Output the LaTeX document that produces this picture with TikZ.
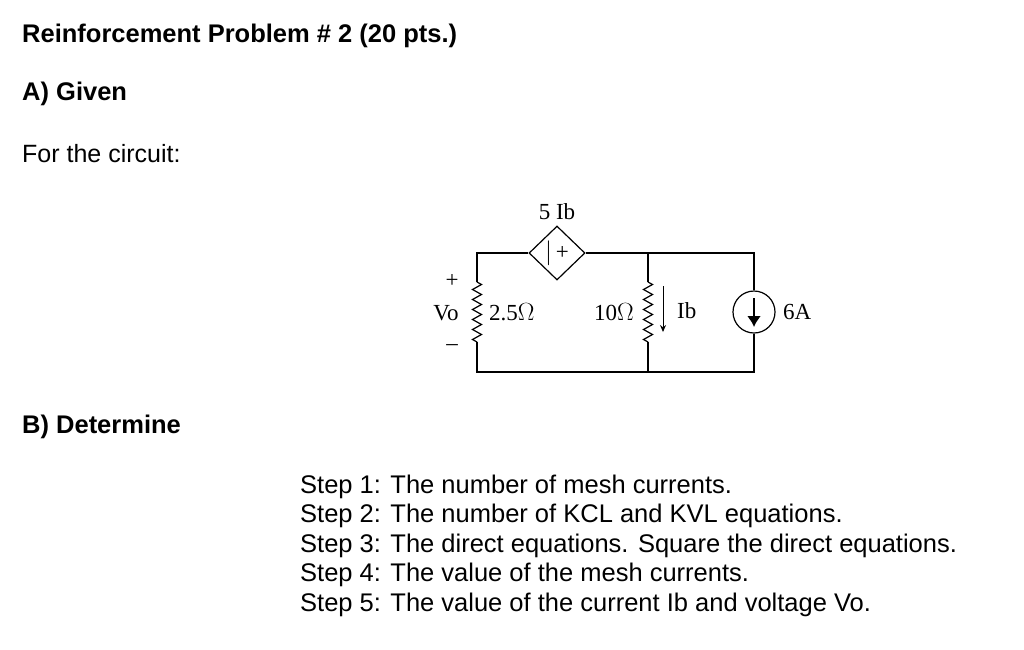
\documentclass[tikz,border=0pt]{standalone}
\usepackage{fontspec}
\setmainfont{Liberation Sans}
\newfontfamily\circfont{Liberation Serif}
\usetikzlibrary{decorations.pathmorphing,shapes.geometric,arrows.meta}
\begin{document}
\begin{tikzpicture}[x=1pt,y=-1pt,
  txt/.style={anchor=west,inner sep=0,font=\fontsize{25}{30}\selectfont},
  btxt/.style={txt,font=\fontsize{25.5}{30}\selectfont\bfseries},
  stp/.style={anchor=west,inner sep=0,font=\fontsize{25.5}{30}\selectfont},
  lbl/.style={inner sep=0,font=\circfont\fontsize{23}{26}\selectfont},
  wire/.style={line width=1.2pt},
  res/.style={wire,decorate,decoration={zigzag,segment length=10pt,amplitude=4.5pt}}]
\useasboundingbox (0,0) rectangle (1024,649);
\node[btxt] (t1) at (22,36) {Reinforcement Problem \# 2 (20 pts.)};
\node[btxt] (t2) at (22,94) {A) Given};
\node[txt] (t3) at (22,154) {For the circuit:};
\node[btxt] (t4) at (22,427) {B) Determine};
\node[stp] (s1) at (300,487) {Step 1: The number of mesh currents.};
\node[stp] (s2) at (300,516) {Step 2: The number of KCL and KVL equations.};
\node[stp] (s3) at (300,546) {Step 3: The direct equations. Square the direct equations.};
\node[stp] (s4) at (300,575) {Step 4: The value of the mesh currents.};
\node[stp] (s5) at (300,605) {Step 5: The value of the current Ib and voltage Vo.};
% circuit
\coordinate (tl) at (477,253); \coordinate (bl) at (477,372);
\coordinate (tm) at (648,253); \coordinate (bm) at (648,372);
\coordinate (tr) at (754,253); \coordinate (br) at (754,372);
\coordinate (r1a) at (477,282); \coordinate (r1b) at (477,342);
\coordinate (r2a) at (648,282); \coordinate (r2b) at (648,342);
\node[diamond,draw,wire,minimum width=56pt,minimum height=54pt,inner sep=0] (dep) at (557,253) {};
\node[lbl] at (557,253) {$|$\,+};
\node[circle,draw,wire,minimum size=42pt,inner sep=0] (cs) at (754,312) {};
\draw[wire] (r1a) -- (tl) -- (dep.west);
\draw[wire] (dep.east) -- (tr) -- (cs.north);
\draw[wire] (cs.south) -- (br) -- (bl) -- (r1b);
\draw[wire] (tm) -- (r2a); \draw[wire] (r2b) -- (bm);
\draw[res] (r1a) -- (r1b);
\draw[res] (r2a) -- (r2b);
\draw[line width=2pt,-{Latex[length=11pt,width=14pt]}] (754,298) -- (754,327);
\coordinate (ia) at (663,286); \coordinate (ib) at (663,332);
\draw[line width=1pt,-{Stealth[length=7pt,width=6pt]}] (ia) -- (ib);
\node[lbl] (l5) at (557,212) {5 Ib};
\node[lbl] (lp) at (452,281) {+};
\node[lbl] (lv) at (446,313) {Vo};
\node[lbl] (lm) at (452,348) {\textendash};
\node[lbl,anchor=west] (l25) at (489,312) {2.5$\Omega$};
\node[lbl,anchor=east] (l10) at (634,312) {10$\Omega$};
\node[lbl,anchor=west] (lib) at (677,311) {Ib};
\node[lbl,anchor=west] (l6) at (783,312) {6A};
\end{tikzpicture}
\end{document}
